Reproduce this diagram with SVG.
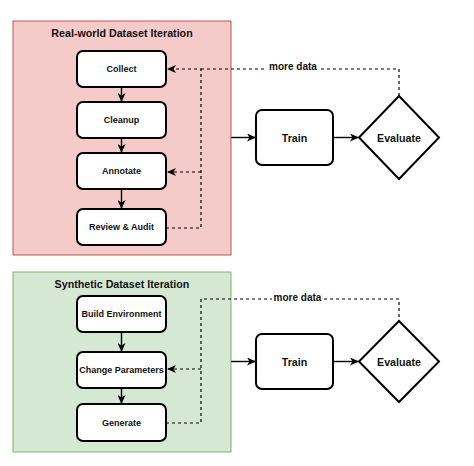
<svg xmlns="http://www.w3.org/2000/svg" width="474" height="466" viewBox="0 0 474 466">
<defs>
<marker id="arr" markerUnits="userSpaceOnUse" markerWidth="10" markerHeight="8" viewBox="0 0 10 8" refX="9" refY="4" orient="auto">
<path d="M0,0 L9,4 L0,8 L2.5,4 Z" fill="#000"/>
</marker>
</defs>
<style>
.box{fill:#fff;stroke:#000;stroke-width:2}
.lbl{font-family:"Liberation Sans",Arial,sans-serif;font-weight:bold;font-size:9px;fill:#111;text-anchor:middle}
.big{font-family:"Liberation Sans",Arial,sans-serif;font-weight:bold;font-size:10.7px;fill:#111;text-anchor:middle}
.solid{fill:none;stroke:#000;stroke-width:1.4}
.dash{fill:none;stroke:#000;stroke-width:1.2;stroke-dasharray:3 3}
</style>
<rect width="474" height="466" fill="#fff"/>
<g id="real-world">
<rect x="13" y="21" width="218" height="234" fill="#f5cbc9" stroke="#b85450" stroke-width="1"/>
<text class="big" x="122" y="37">Real-world Dataset Iteration</text>
</g>
<g id="synthetic">
<rect x="13" y="272" width="218" height="180" fill="#d5e8d4" stroke="#82b366" stroke-width="1"/>
<text class="big" x="122" y="288">Synthetic Dataset Iteration</text>
</g>
<g id="connectors">
<path class="solid" d="M121.5,87 V102" marker-end="url(#arr)"/>
<path class="solid" d="M121.5,138 V153" marker-end="url(#arr)"/>
<path class="solid" d="M121.5,189 V209" marker-end="url(#arr)"/>
<path class="dash" d="M166,228 H201 V69 H167" marker-end="url(#arr)"/>
<path class="dash" d="M201,172 H167" marker-end="url(#arr)"/>
<path class="dash" d="M399,96 V69 H201"/>
<path class="solid" d="M231,137.5 H256" marker-end="url(#arr)"/>
<path class="solid" d="M333,137.5 H359" marker-end="url(#arr)"/>
<path class="solid" d="M121.5,332 V352" marker-end="url(#arr)"/>
<path class="solid" d="M121.5,388 V404" marker-end="url(#arr)"/>
<path class="dash" d="M166,423 H201 V299 H399 V321"/>
<path class="dash" d="M201,369 H167" marker-end="url(#arr)"/>
<path class="solid" d="M231,361.5 H256" marker-end="url(#arr)"/>
<path class="solid" d="M333,361.5 H359" marker-end="url(#arr)"/>
<rect x="267" y="61" width="52" height="11" fill="#fff"/>
<text class="lbl" x="293" y="70" style="font-size:10px">more data</text>
<rect x="272" y="292" width="52" height="11" fill="#fff"/>
<text class="lbl" x="297.5" y="301" style="font-size:10px">more data</text>
</g>
<g id="collect"><rect class="box" x="77" y="51" width="89" height="36" rx="6"/><text class="lbl" x="121.5" y="72.2">Collect</text></g>
<g id="cleanup"><rect class="box" x="77" y="102" width="89" height="36" rx="6"/><text class="lbl" x="121.5" y="123.2">Cleanup</text></g>
<g id="annotate"><rect class="box" x="77" y="153" width="89" height="36" rx="6"/><text class="lbl" x="121.5" y="174.2">Annotate</text></g>
<g id="review"><rect class="box" x="77" y="209" width="89" height="36" rx="6"/><text class="lbl" x="121.5" y="230.2">Review &amp; Audit</text></g>
<g id="train1"><rect class="box" x="256" y="110" width="77" height="55" rx="6"/><text class="big" x="294.5" y="141.5">Train</text></g>
<g id="evaluate1"><path class="box" d="M399,96 L439,137.5 L399,179 L359,137.5 Z"/><text class="big" x="399" y="141.5">Evaluate</text></g>
<g id="build"><rect class="box" x="77" y="296" width="89" height="36" rx="6"/><text class="lbl" x="121.5" y="317.2">Build Environment</text></g>
<g id="change"><rect class="box" x="77" y="352" width="89" height="36" rx="6"/><text class="lbl" x="121.5" y="373.2">Change Parameters</text></g>
<g id="generate"><rect class="box" x="77" y="404" width="89" height="37" rx="6"/><text class="lbl" x="121.5" y="425.7">Generate</text></g>
<g id="train2"><rect class="box" x="256" y="334" width="77" height="55" rx="6"/><text class="big" x="294.5" y="365.5">Train</text></g>
<g id="evaluate2"><path class="box" d="M399,321 L439,361.5 L399,402 L359,361.5 Z"/><text class="big" x="399" y="365.5">Evaluate</text></g>
</svg>
